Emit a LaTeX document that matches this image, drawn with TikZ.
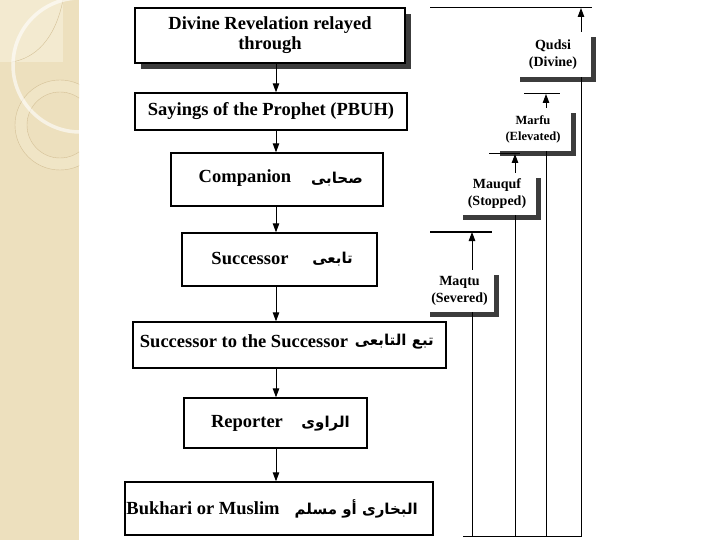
\documentclass[tikz,border=0pt]{standalone}
\usepackage{fontspec}
\setmainfont{Liberation Serif}
\newfontfamily\arabicfont[Script=Arabic]{DejaVu Sans}
\TeXXeTstate=1
\usetikzlibrary{arrows.meta, positioning, shadows, calc}
\definecolor{stripbg}{RGB}{237, 224, 190}
\definecolor{striplight}{RGB}{243, 234, 208}
\definecolor{ringfill}{RGB}{240, 229, 198}
\definecolor{ringline}{RGB}{212, 192, 150}
\definecolor{shadowgray}{RGB}{60, 60, 60}

\begin{document}
\begin{tikzpicture}[
    x=1pt, y=-1pt,
    chainbox/.style={draw, line width=1.4pt, fill=white, inner sep=0pt},
    shadowed/.style={drop shadow={shadow xshift=6pt, shadow yshift=-6pt, fill=shadowgray, opacity=1}},
    entext/.style={font=\bfseries\fontsize{18.5}{20}\selectfont},
    artext/.style={anchor=east, inner sep=0pt, font=\arabicfont\bfseries\fontsize{15}{18}\selectfont},
    kind/.style={fill=white, inner sep=0pt, align=center, font=\bfseries\fontsize{14}{17}\selectfont,
      drop shadow={shadow xshift=5pt, shadow yshift=-5pt, fill=shadowgray, opacity=1}},
    rail/.style={line width=1pt},
    arrow/.style={-{Triangle[length=9pt, width=6.5pt]}, line width=1pt}
    ]
    \useasboundingbox (0,0) rectangle (720,540);
    \fill[white] (0,0) rectangle (720,540);

    % Side strip
    \begin{scope}
      \clip (0,0) rectangle (79,540);
      \fill[stripbg] (0,0) rectangle (79,540);
      \fill[striplight] (0,0) rectangle (63,62);
      \draw[ringline, thin] (63,0) .. controls (55,40) and (35,58) .. (12,62);
      \fill[ringfill, even odd rule] (60,125) circle (45) (60,125) circle (33);
      \draw[ringline, thin] (60,125) circle (45) (60,125) circle (33);
      \draw[white, opacity=0.6, line width=3.5pt] (80,65) circle (67);
    \end{scope}

    % Chain of narrators
    \node[chainbox, shadowed, entext, align=center, minimum width=270, minimum height=55] (revel) at (270,35.5) {Divine Revelation relayed\\through};
    \node[chainbox, entext, minimum width=272, minimum height=37] (sayings) at (271,111.5) {Sayings of the Prophet (PBUH)};

    \node[chainbox, minimum width=212, minimum height=53] (companion) at (277,179.5) {};
    \node[entext] (companionEn) at (245,178) {Companion};
    \node[artext] (companionAr) at (363,179) {\beginR صحابى\endR};

    \node[chainbox, minimum width=195, minimum height=53] (successor) at (279.5,259.5) {};
    \node[entext] (successorEn) at (250,258) {Successor};
    \node[artext] (successorAr) at (353,259) {\beginR تابعى\endR};

    \node[chainbox, minimum width=313, minimum height=46] (tabi) at (289.5,345) {};
    \node[entext] (tabiEn) at (244,341) {Successor to the Successor};
    \node[artext] (tabiAr) at (434,342) {\beginR تبع التابعى\endR};

    \node[chainbox, minimum width=183, minimum height=50] (reporter) at (275.5,423) {};
    \node[entext] (reporterEn) at (247,423) {Reporter};
    \node[artext] (reporterAr) at (350,424) {\beginR الراوى\endR};

    \node[chainbox, minimum width=308, minimum height=53] (collector) at (279,508.5) {};
    \node[entext] (collectorEn) at (203,508) {Bukhari or Muslim};
    \node[artext] (collectorAr) at (418,509) {\beginR البخارى أو مسلم\endR};

    \coordinate (spine) at (276,0);
    \foreach \a/\b in {revel/sayings, sayings/companion, companion/successor,
        successor/tabi, tabi/reporter, reporter/collector} {
        \draw[arrow] (\a.south -| spine) -- (\b.north -| spine);
      }

    % Kinds of hadith
    \node[kind, minimum width=76, minimum height=45] (qudsi) at (553,54.5) {Qudsi\\(Divine)};
    \node[kind, minimum width=76, minimum height=43, font=\bfseries\fontsize{12.5}{16}\selectfont] (marfu) at (533,129.5) {Marfu\\(Elevated)};
    \node[kind, minimum width=78, minimum height=42] (mauquf) at (497,194) {Mauquf\\(Stopped)};
    \node[kind, minimum width=69, minimum height=42] (maqtu) at (459.5,291) {Maqtu\\(Severed)};

    % Ceiling lines
    \coordinate (ceilQa) at (430,8);    \coordinate (ceilQb) at (592,8);
    \coordinate (ceilMa) at (524,94);   \coordinate (ceilMb) at (560,94);
    \coordinate (ceilSa) at (489,154);  \coordinate (ceilSb) at (520,154);
    \coordinate (ceilTa) at (430,232);  \coordinate (ceilTb) at (492,232);
    \foreach \c in {Q, M, S, T} {
        \draw[rail] (ceil\c a) -- (ceil\c b);
      }

    % Rails
    \coordinate (floorL) at (463,536);  \coordinate (floorR) at (582,536);
    \coordinate (railQ) at (581,536);
    \coordinate (railM) at (546,536);
    \coordinate (railS) at (515,536);
    \coordinate (railT) at (472,536);
    \draw[rail] (floorL) -- (floorR);
    \foreach \k/\r/\c in {qudsi/railQ/ceilQa, marfu/railM/ceilMa, mauquf/railS/ceilSa, maqtu/railT/ceilTa} {
        \draw[rail] (\k.south -| \r) -- (\r);
        \draw[arrow] (\k.north -| \r) -- (\c -| \r);
      }
  \end{tikzpicture}
\end{document}
